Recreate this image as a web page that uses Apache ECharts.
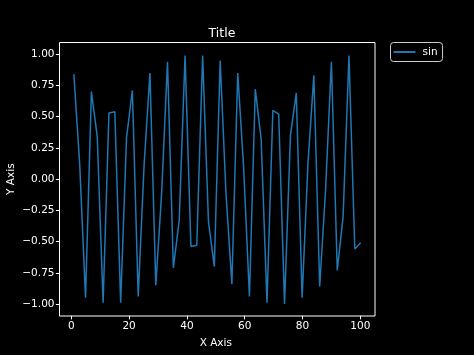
<!DOCTYPE html>
<html>
<head>
<meta charset="utf-8">
<script src="https://cdn.jsdelivr.net/npm/echarts@6/dist/echarts.min.js"></script>
<style>
  html, body { margin: 0; padding: 0; background: #000; }
  #chart { width: 474px; height: 355px; }
</style>
</head>
<body>
<div id="chart"></div>
<script>
// values
var xs = [1.00, 3.02, 5.04, 7.06, 9.08, 11.10, 13.12, 15.14, 17.16, 19.18,
          21.20, 23.22, 25.24, 27.27, 29.29, 31.31, 33.33, 35.35, 37.37, 39.39,
          41.41, 43.43, 45.45, 47.47, 49.49, 51.51, 53.53, 55.55, 57.57, 59.59,
          61.61, 63.63, 65.65, 67.67, 69.69, 71.71, 73.73, 75.76, 77.78, 79.80,
          81.82, 83.84, 85.86, 87.88, 89.90, 91.92, 93.94, 95.96, 97.98, 100.00];
var ys = [0.84, 0.12, -0.95, 0.70, 0.34, -0.99, 0.53, 0.54, -0.99, 0.33,
          0.71, -0.94, 0.11, 0.85, -0.85, -0.11, 0.94, -0.71, -0.33, 0.99,
          -0.54, -0.53, 0.99, -0.34, -0.70, 0.95, -0.12, -0.84, 0.85, 0.10,
          -0.94, 0.72, 0.32, -0.99, 0.55, 0.52, -1.00, 0.35, 0.69, -0.95,
          0.13, 0.83, -0.86, -0.09, 0.94, -0.73, -0.30, 0.99, -0.56, -0.51];
var xTicks = [0, 100, 20];
var yTicks = [-1, 1, 0.25];
var seriesName = 'sin';

var points = xs.map(function (x, i) { return [x, ys[i]]; });
var font = 'DejaVu Sans';

var option = {
    backgroundColor: '#000',
    animation: false,
    title: {
        text: 'Title',
        left: 217,
        top: 22,
        textAlign: 'center',
        textStyle: { color: '#fff', fontFamily: font, fontSize: 12.5, fontWeight: 'normal' }
    },
    legend: {
        data: [seriesName],
        left: 390.5,
        top: 42.5,
        padding: [4, 5, 4, 3],
        borderColor: '#ccc',
        borderWidth: 1,
        borderRadius: 3,
        itemWidth: 22,
        itemHeight: 2,
        itemGap: 0,
        icon: 'rect',
        textStyle: { color: '#fff', fontFamily: font, fontSize: 10.5, padding: [0, 0, 0, 2] }
    },
    grid: [
        { left: 59.5, top: 42.5, width: 315.5, height: 273.5, show: true,
          outerBoundsMode: 'none', containLabel: false,
          borderColor: '#fff', borderWidth: 1, backgroundColor: '#000' },
        { left: 71.3, right: 113.7, top: 54.3, bottom: 51,
          outerBoundsMode: 'none', containLabel: false }
    ],
    xAxis: [
        { type: 'value', gridIndex: 0, min: -3.95, max: 104.95, show: false },
        {
            type: 'value', gridIndex: 1,
            min: xTicks[0], max: xTicks[1], interval: xTicks[2],
            position: 'bottom',
            offset: 11.8,
            name: 'X Axis', nameLocation: 'middle', nameGap: 22,
            nameMoveOverlap: false,
            nameTextStyle: { color: '#fff', fontFamily: font, fontSize: 10.5 },
            axisLine: { show: false, onZero: false },
            axisTick: { show: true, length: 3.6, lineStyle: { color: '#fff', width: 1 } },
            axisLabel: { color: '#fff', fontFamily: font, fontSize: 10.5, margin: 5 },
            splitLine: { show: false }
        }
    ],
    yAxis: [
        { type: 'value', gridIndex: 0, min: -1.0955, max: 1.0935, show: false },
        {
            type: 'value', gridIndex: 1,
            min: yTicks[0], max: yTicks[1], interval: yTicks[2],
            position: 'left',
            offset: 11.8,
            name: 'Y Axis', nameLocation: 'middle', nameGap: 43,
            nameMoveOverlap: false,
            nameTextStyle: { color: '#fff', fontFamily: font, fontSize: 10.5 },
            axisLine: { show: false, onZero: false },
            axisTick: { show: true, length: 3.6, lineStyle: { color: '#fff', width: 1 } },
            axisLabel: {
                color: '#fff', fontFamily: font, fontSize: 10.5, margin: 5,
                formatter: function (v) { return v.toFixed(2).replace('-', '\u2212'); }
            },
            splitLine: { show: false }
        }
    ],
    series: [
        {
            name: seriesName,
            type: 'line',
            xAxisIndex: 0,
            yAxisIndex: 0,
            data: points,
            symbol: 'none',
            color: '#1f77b4',
            lineStyle: { color: '#1f77b4', width: 1.5 }
        }
    ]
};

var chart = echarts.init(document.getElementById('chart'));
chart.setOption(option);
</script>
</body>
</html>
